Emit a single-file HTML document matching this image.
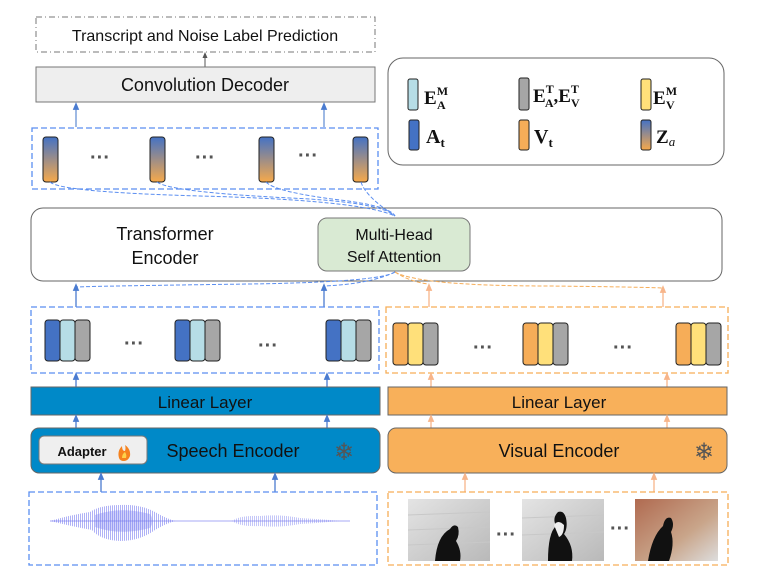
<!DOCTYPE html>
<html><head><meta charset="utf-8"><style>
body{margin:0;background:#fff;}
svg text{font-family:"Liberation Sans",sans-serif;}
</style></head><body>
<svg width="759" height="583" viewBox="0 0 759 583" xmlns="http://www.w3.org/2000/svg">
<defs>
<linearGradient id="za" x1="0" y1="0" x2="0" y2="1"><stop offset="0" stop-color="#4472c4"/><stop offset="1" stop-color="#f6a94b"/></linearGradient>
<marker id="ab" markerWidth="6" markerHeight="6" refX="3" refY="3" orient="auto"><path d="M0,0.5 L6,3 L0,5.5z" fill="#4a7bd0"/></marker>
<marker id="ao" markerWidth="6" markerHeight="6" refX="3" refY="3" orient="auto"><path d="M0,0.5 L6,3 L0,5.5z" fill="#f7b58a"/></marker>
<marker id="ag" markerWidth="6" markerHeight="6" refX="3" refY="3" orient="auto"><path d="M0,0.5 L6,3 L0,5.5z" fill="#555"/></marker>
<linearGradient id="img" x1="0" y1="0" x2="1" y2="1"><stop offset="0" stop-color="#e4e4e4"/><stop offset="1" stop-color="#b9b9b9"/></linearGradient>
<linearGradient id="img3" x1="0" y1="0" x2="1" y2="1"><stop offset="0" stop-color="#b06a50"/><stop offset="0.6" stop-color="#c9a58a"/><stop offset="1" stop-color="#ddd"/></linearGradient>
<pattern id="stripes" width="2" height="4" patternUnits="userSpaceOnUse"><rect width="1" height="4" fill="#6f73ee"/></pattern>
</defs>

<rect x="36" y="17" width="339" height="35" fill="#fff" stroke="#777" stroke-width="1" stroke-dasharray="6,3,1,3"/>
<text x="205" y="41" font-size="16" text-anchor="middle" fill="#111">Transcript and Noise Label Prediction</text>
<line x1="205" y1="67" x2="205" y2="55" stroke="#555" stroke-width="1" marker-end="url(#ag)"/>
<rect x="36" y="67" width="339" height="35" fill="#eeeeee" stroke="#777"/>
<text x="205" y="91" font-size="18" text-anchor="middle" fill="#111">Convolution Decoder</text>
<line x1="76" y1="127" x2="76" y2="106" stroke="#6a93d6" stroke-width="1.3" marker-end="url(#ab)"/>
<line x1="324" y1="127" x2="324" y2="106" stroke="#6a93d6" stroke-width="1.3" marker-end="url(#ab)"/>

<rect x="32" y="128" width="346" height="61" fill="none" stroke="#5b8ef0" stroke-width="1.3" stroke-dasharray="6,3"/>
<g stroke="#222" stroke-width="1">
<rect x="43" y="137" width="15" height="45" rx="3" fill="url(#za)"/>
<rect x="150" y="137" width="15" height="45" rx="3" fill="url(#za)"/>
<rect x="259" y="137" width="15" height="45" rx="3" fill="url(#za)"/>
<rect x="353" y="137" width="15" height="45" rx="3" fill="url(#za)"/>
</g>
<g font-size="20" fill="#555" text-anchor="middle" font-weight="bold"><text x="100" y="164">···</text><text x="205" y="164">···</text><text x="308" y="162">···</text></g>

<rect x="388" y="58" width="336" height="107" rx="15" fill="#fff" stroke="#666"/>
<g stroke="#222" stroke-width="1">
<rect x="408" y="79" width="10" height="31" rx="2" fill="#b6dde6"/>
<rect x="519" y="78" width="10" height="32" rx="2" fill="#a6a6a6"/>
<rect x="641" y="79" width="10" height="31" rx="2" fill="#ffe07a"/>
<rect x="409" y="120" width="10" height="30" rx="2" fill="#4472c4"/>
<rect x="519" y="120" width="10" height="30" rx="2" fill="#f6ad58"/>
<rect x="641" y="120" width="10" height="30" rx="2" fill="url(#za)"/>
</g>
<g font-weight="bold" fill="#111">
<text x="424" y="104" font-size="19" style="font-family:'Liberation Serif',serif">E<tspan font-size="12" dy="-9">M</tspan><tspan font-size="12" dx="-11" dy="14">A</tspan></text>
<text x="533" y="102" font-size="19" style="font-family:'Liberation Serif',serif">E<tspan font-size="12" dy="-9">T</tspan><tspan font-size="12" dx="-8" dy="14">A</tspan><tspan dy="-5">,E</tspan><tspan font-size="12" dy="-9">T</tspan><tspan font-size="12" dx="-8" dy="14">V</tspan></text>
<text x="653" y="104" font-size="19" style="font-family:'Liberation Serif',serif">E<tspan font-size="12" dy="-9">M</tspan><tspan font-size="12" dx="-11" dy="14">V</tspan></text>
<text x="426" y="143" font-size="20" style="font-family:'Liberation Serif',serif">A<tspan font-size="13" dy="4">t</tspan></text>
<text x="534" y="143" font-size="20" style="font-family:'Liberation Serif',serif">V<tspan font-size="13" dy="4">t</tspan></text>
<text x="656" y="143" font-size="19" style="font-family:'Liberation Serif',serif">Z<tspan font-size="13" font-weight="normal" font-style="italic" dy="3">a</tspan></text>
</g>

<rect x="31" y="208" width="691" height="73" rx="12" fill="#fff" stroke="#666"/>
<text x="165" y="240" font-size="18" text-anchor="middle" fill="#111">Transformer</text>
<text x="165" y="264" font-size="18" text-anchor="middle" fill="#111">Encoder</text>
<g fill="none" stroke="#5b8ef0" stroke-width="1" stroke-dasharray="4,2">
<path d="M50,182 Q60,192 200,196 Q360,200 395,216"/>
<path d="M157,182 Q170,192 290,198 Q380,202 395,216"/>
<path d="M266,182 Q275,192 340,200 Q390,206 395,216"/>
<path d="M361,182 Q365,196 395,216"/>
</g>
<rect x="318" y="218" width="152" height="53" rx="9" fill="#d9ead3" stroke="#777"/>
<text x="394" y="240" font-size="16" text-anchor="middle" fill="#111">Multi-Head</text>
<text x="394" y="262" font-size="16" text-anchor="middle" fill="#111">Self Attention</text>
<g fill="none" stroke-width="1" stroke-dasharray="4,2">
<path d="M395,272 Q380,282 250,284 Q100,286 76,287" stroke="#5b8ef0"/>
<path d="M395,272 Q370,284 324,286" stroke="#5b8ef0"/>
<path d="M395,272 Q410,282 429,284" stroke="#f6ad58"/>
<path d="M395,272 Q420,286 550,286 Q640,287 663,288" stroke="#f6ad58"/>
</g>
<g stroke-width="1.3">
<line x1="76" y1="307" x2="76" y2="287" stroke="#4a7bd0" marker-end="url(#ab)"/>
<line x1="324" y1="307" x2="324" y2="287" stroke="#4a7bd0" marker-end="url(#ab)"/>
<line x1="429" y1="307" x2="429" y2="287" stroke="#f7b58a" marker-end="url(#ao)"/>
<line x1="663" y1="307" x2="663" y2="289" stroke="#f7b58a" marker-end="url(#ao)"/>
</g>

<rect x="31" y="307" width="348" height="66" fill="none" stroke="#5b8ef0" stroke-width="1.3" stroke-dasharray="6,3"/>
<rect x="386" y="307" width="342" height="66" fill="none" stroke="#f6ad58" stroke-width="1.3" stroke-dasharray="6,3"/>
<g stroke="#222" stroke-width="1">
<g transform="translate(45,320)"><rect x="0" y="0" width="15" height="41" rx="3" fill="#4472c4"/><rect x="15" y="0" width="15" height="41" rx="3" fill="#b6dde6"/><rect x="30" y="0" width="15" height="41" rx="3" fill="#a6a6a6"/></g>
<g transform="translate(175,320)"><rect x="0" y="0" width="15" height="41" rx="3" fill="#4472c4"/><rect x="15" y="0" width="15" height="41" rx="3" fill="#b6dde6"/><rect x="30" y="0" width="15" height="41" rx="3" fill="#a6a6a6"/></g>
<g transform="translate(326,320)"><rect x="0" y="0" width="15" height="41" rx="3" fill="#4472c4"/><rect x="15" y="0" width="15" height="41" rx="3" fill="#b6dde6"/><rect x="30" y="0" width="15" height="41" rx="3" fill="#a6a6a6"/></g>
<g transform="translate(393,323)"><rect x="0" y="0" width="15" height="42" rx="3" fill="#f6ad58"/><rect x="15" y="0" width="15" height="42" rx="3" fill="#ffe07a"/><rect x="30" y="0" width="15" height="42" rx="3" fill="#a6a6a6"/></g>
<g transform="translate(523,323)"><rect x="0" y="0" width="15" height="42" rx="3" fill="#f6ad58"/><rect x="15" y="0" width="15" height="42" rx="3" fill="#ffe07a"/><rect x="30" y="0" width="15" height="42" rx="3" fill="#a6a6a6"/></g>
<g transform="translate(676,323)"><rect x="0" y="0" width="15" height="42" rx="3" fill="#f6ad58"/><rect x="15" y="0" width="15" height="42" rx="3" fill="#ffe07a"/><rect x="30" y="0" width="15" height="42" rx="3" fill="#a6a6a6"/></g>
</g>
<g font-size="20" fill="#555" text-anchor="middle" font-weight="bold"><text x="134" y="350">···</text><text x="268" y="352">···</text><text x="483" y="354">···</text><text x="623" y="354">···</text></g>

<g stroke-width="1.3">
<line x1="76" y1="387" x2="76" y2="376" stroke="#4a7bd0" marker-end="url(#ab)"/>
<line x1="327" y1="387" x2="327" y2="376" stroke="#4a7bd0" marker-end="url(#ab)"/>
<line x1="431" y1="387" x2="431" y2="376" stroke="#f7b58a" marker-end="url(#ao)"/>
<line x1="667" y1="387" x2="667" y2="376" stroke="#f7b58a" marker-end="url(#ao)"/>
</g>
<rect x="31" y="387" width="349" height="28" fill="#0089c8" stroke="#666"/>
<text x="205" y="408" font-size="17" text-anchor="middle" fill="#111">Linear Layer</text>
<rect x="388" y="387" width="339" height="28" fill="#f8b05a" stroke="#666"/>
<text x="559" y="408" font-size="17" text-anchor="middle" fill="#111">Linear Layer</text>
<g stroke-width="1.3">
<line x1="76" y1="428" x2="76" y2="418" stroke="#4a7bd0" marker-end="url(#ab)"/>
<line x1="327" y1="428" x2="327" y2="418" stroke="#4a7bd0" marker-end="url(#ab)"/>
<line x1="431" y1="428" x2="431" y2="418" stroke="#f7b58a" marker-end="url(#ao)"/>
<line x1="667" y1="428" x2="667" y2="418" stroke="#f7b58a" marker-end="url(#ao)"/>
</g>
<rect x="31" y="428" width="349" height="45" rx="8" fill="#0089c8" stroke="#666"/>
<rect x="39" y="436" width="108" height="28" rx="5" fill="#efefef" stroke="#777"/>
<text x="82" y="456" font-size="13" font-weight="bold" text-anchor="middle" fill="#111">Adapter</text>
<path d="M119,458 q-2,-7 3,-12 q0,5 3,5 q1,-3 0,-6 q6,4 5,11 q-2,5 -6,5 q-4,0 -5,-3z" fill="#f5821f"/>
<path d="M122,458 q0,-4 3,-6 q2,3 1,6z" fill="#ffd24a"/>
<text x="233" y="457" font-size="18" text-anchor="middle" fill="#111">Speech Encoder</text>
<text x="344" y="460" font-size="24" text-anchor="middle" fill="#555">❄</text>
<rect x="388" y="428" width="339" height="45" rx="8" fill="#f8b05a" stroke="#666"/>
<text x="559" y="457" font-size="18" text-anchor="middle" fill="#111">Visual Encoder</text>
<text x="704" y="460" font-size="24" text-anchor="middle" fill="#555">❄</text>

<g stroke-width="1.3">
<line x1="101" y1="492" x2="101" y2="476" stroke="#4a7bd0" marker-end="url(#ab)"/>
<line x1="275" y1="492" x2="275" y2="476" stroke="#4a7bd0" marker-end="url(#ab)"/>
<line x1="465" y1="492" x2="465" y2="476" stroke="#f7b58a" marker-end="url(#ao)"/>
<line x1="654" y1="492" x2="654" y2="476" stroke="#f7b58a" marker-end="url(#ao)"/>
</g>
<rect x="29" y="492" width="348" height="73" fill="none" stroke="#5b8ef0" stroke-width="1.3" stroke-dasharray="6,3"/>
<rect x="388" y="492" width="340" height="73" fill="none" stroke="#f6ad58" stroke-width="1.3" stroke-dasharray="6,3"/>
<line x1="50" y1="521" x2="350" y2="521" stroke="#8a8df2" stroke-width="0.8"/>
<path d="M50,521 Q70,515 90,512 Q100,505 120,505 Q140,504 155,512 Q165,518 175,521 Q165,524 155,530 Q140,541 120,541 Q100,540 92,530 Q70,526 50,521z" fill="url(#stripes)" opacity="0.55"/>
<path d="M95,515 Q120,506 150,514 Q155,521 150,528 Q120,536 95,527z" fill="#7b7ff0" opacity="0.35"/>
<path d="M232,521 Q240,515 260,516 Q280,514 300,518 Q320,519 340,521 Q320,523 300,524 Q280,528 260,526 Q240,527 232,521z" fill="url(#stripes)" opacity="0.4"/>
<g>
<rect x="408" y="499" width="82" height="62" fill="url(#img)"/>
<g stroke="#c8c8c8" stroke-width="1"><line x1="408" y1="515" x2="490" y2="512"/><line x1="408" y1="530" x2="490" y2="527"/><line x1="408" y1="545" x2="490" y2="542"/></g>
<path d="M435,561 q2,-25 15,-32 q4,-6 8,-2 q2,8 -2,14 q6,10 4,20z" fill="#111"/>
<rect x="522" y="499" width="82" height="62" fill="url(#img)"/>
<g stroke="#c8c8c8" stroke-width="1"><line x1="522" y1="518" x2="604" y2="515"/><line x1="522" y1="535" x2="604" y2="532"/></g>
<path d="M548,561 q0,-28 8,-35 q-4,-8 2,-14 q6,-2 8,6 q2,10 -2,16 q10,12 8,27z" fill="#111"/>
<path d="M554,525 q4,-6 10,0 q0,10 -5,12z" fill="#eee"/>
<rect x="635" y="499" width="83" height="62" fill="url(#img3)"/>
<path d="M648,561 q4,-25 15,-35 q2,-10 8,-8 q4,6 0,14 q4,12 -2,29z" fill="#111"/>
</g>
<g font-size="20" fill="#555" text-anchor="middle" font-weight="bold"><text x="506" y="541">···</text><text x="620" y="535">···</text></g>
</svg>
</body></html>
